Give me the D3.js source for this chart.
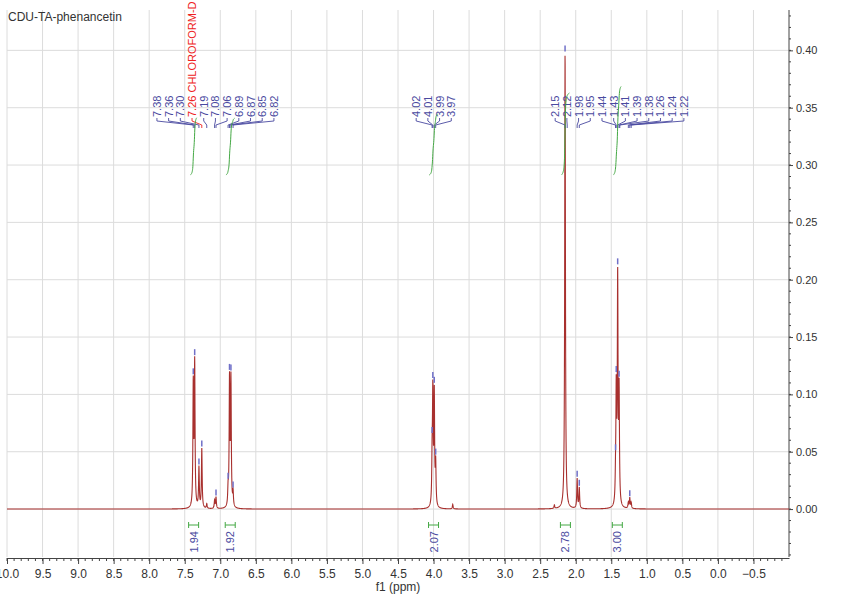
<!DOCTYPE html>
<html><head><meta charset="utf-8">
<script src="https://cdn.jsdelivr.net/npm/d3@7"></script>
<style>body{margin:0;background:#fff}text{font-family:"Liberation Sans",Arial,sans-serif}</style>
</head><body><svg id="c" width="841" height="595"></svg>
<script>
const title = 'CDU-TA-phenancetin';
// peaks: ppm, height
const peakPpm =    [7.38, 7.36, 7.30, 7.26, 7.19, 7.08, 7.06, 6.89, 6.87, 6.85, 6.82, 4.02, 4.01, 3.99, 3.97, 3.73, 2.30, 2.15, 1.98, 1.95, 1.44, 1.43, 1.41, 1.39, 1.26, 1.24, 1.22];
const peakHeight = [0.106,0.124,0.035,0.052,0.004,0.007,0.010,0.014,0.110,0.110,0.012,0.036,0.095,0.097,0.036,0.004,0.003,0.398,0.026,0.018,0.016,0.096,0.196,0.096,0.005,0.009,0.005];
// peak label groups
const labelGroups = [
  ['7.38','7.36','7.30','7.26 CHLOROFORM-D','7.19','7.08','7.06','6.89','6.87','6.85','6.82'],
  ['4.02','4.01','3.99','3.97'],
  ['2.15','2.12','1.98','1.95','1.44','1.43','1.41','1.39','1.38','1.26','1.24','1.22']
];
// integrals: from, to, value
const intFrom = [7.42, 6.92, 4.06, 2.20, 1.47];
const intTo   = [7.33, 6.80, 3.94, 2.09, 1.36];
const intVal  = [1.94, 1.92, 2.07, 2.78, 3.00];
const xTicks = d3.range(10, -0.51, -0.5);
const yTicks = d3.range(0, 0.401, 0.05);

const svg = d3.select('#c');
const L = 7, R = 789, T = 10, B = 557;
const x = d3.scaleLinear().domain([10.0, -1.0]).range([L, R]);
const y = d3.scaleLinear().domain([-0.0418, 0.4352]).range([B, T]);

// grid
svg.append('g').selectAll('line').data(xTicks).join('line')
  .attr('x1', d => x(d)).attr('x2', d => x(d)).attr('y1', T).attr('y2', B)
  .attr('stroke', '#dcdcdc');
svg.append('g').selectAll('line').data(yTicks).join('line')
  .attr('x1', L).attr('x2', R).attr('y1', d => y(d)).attr('y2', d => y(d))
  .attr('stroke', '#dcdcdc');

// axes
const xAxis = d3.axisBottom(x).tickValues(xTicks).tickFormat(d3.format('.1f')).tickSize(6).tickSizeOuter(0);
const gx = svg.append('g').attr('transform', `translate(0,${B + 1})`).call(xAxis);
gx.selectAll('text').attr('font-size', 12).attr('fill', '#333').attr('dy', '0.9em');
gx.selectAll('line,path').attr('stroke', '#444');
svg.append('g').selectAll('line').data(d3.range(10, -1.0, -0.1)).join('line')
  .attr('x1', d => x(d)).attr('x2', d => x(d)).attr('y1', B + 1).attr('y2', B + 4).attr('stroke', '#444');
svg.append('text').attr('x', x(4.5)).attr('y', 591).attr('text-anchor', 'middle').attr('font-size', 12).attr('fill', '#333').text('f1 (ppm)');

const yAxis = d3.axisRight(y).tickValues(yTicks).tickFormat(d3.format('.2f')).tickSize(4).tickSizeOuter(0);
const gy = svg.append('g').attr('transform', `translate(${R},0)`).call(yAxis);
gy.selectAll('text').attr('font-size', 11).attr('fill', '#333');
gy.selectAll('line,path').attr('stroke', '#444');
gy.select('path').attr('d', `M0,${T}V${B}`);
svg.append('g').selectAll('line').data(d3.range(-0.04, 0.431, 0.01)).join('line')
  .attr('x1', R).attr('x2', R + 2).attr('y1', d => y(d)).attr('y2', d => y(d)).attr('stroke', '#444');

svg.append('text').attr('x', 8).attr('y', 21).attr('font-size', 12).attr('fill', '#333').text(title);

// spectrum from peak list (Lorentzian lines)
const hw = 0.006;
const spec = (p) => peakPpm.reduce((s, c, i) => s + peakHeight[i] / (1 + ((p - c) / hw) ** 2), 0);
const pts = d3.range(10.0, -1.0, -0.0015).map(p => [p, spec(p)]);
svg.append('path').datum(pts)
  .attr('d', d3.line().x(d => x(d[0])).y(d => y(d[1])))
  .attr('fill', 'none').attr('stroke', '#a8302e').attr('stroke-width', 1.1);

// small blue peak markers
svg.append('g').selectAll('line').data(peakPpm.filter((d, i) => peakHeight[i] > 0.008)).join('line')
  .attr('x1', d => x(d)).attr('x2', d => x(d))
  .attr('y1', d => y(spec(d)) - 7).attr('y2', d => y(spec(d)) - 1)
  .attr('stroke', '#7070c8').attr('stroke-width', 1.5);

// peak labels
const sp = 11.7;
const labelShift = [2, 0, 14];
labelGroups.forEach((g, gi) => {
  const ppms = g.map(s => parseFloat(s));
  const cx = d3.mean(ppms.map(p => x(p))) + labelShift[gi];
  const gg = svg.append('g');
  g.forEach((s, i) => {
    const lx = cx + (i - (g.length - 1) / 2) * sp;
    const px = x(ppms[i]);
    const red = s.includes('CHLORO');
    const col = red ? '#ee2222' : '#4a4aa0';
    gg.append('path').attr('d', `M${lx},118V121L${px},125V128`).attr('fill', 'none').attr('stroke', col).attr('stroke-width', 0.9);
    gg.append('text').attr('transform', `translate(${lx + 4},117) rotate(-90)`)
      .attr('font-size', 11).attr('fill', col).text(s);
  });
});

// integrals
intVal.forEach((v, k) => {
  const xs = d3.range(intFrom[k], intTo[k], -0.002);
  let acc = 0;
  const cum = xs.map(p => (acc += spec(p), [p, acc]));
  const h = v * 29.5;
  const iy = d3.scaleLinear().domain([0, acc]).range([175, 175 - h]);
  svg.append('path').datum(cum).attr('d', d3.line().x(d => x(d[0])).y(d => iy(d[1])))
    .attr('fill', 'none').attr('stroke', '#44a844').attr('stroke-width', 1);
  const mx = (x(intFrom[k]) + x(intTo[k])) / 2;
  const g = svg.append('g').attr('stroke', '#44a844');
  g.append('line').attr('x1', mx - 5).attr('x2', mx + 5).attr('y1', 525).attr('y2', 525);
  g.append('line').attr('x1', mx - 5).attr('x2', mx - 5).attr('y1', 522).attr('y2', 528);
  g.append('line').attr('x1', mx + 5).attr('x2', mx + 5).attr('y1', 522).attr('y2', 528);
  svg.append('text').attr('transform', `translate(${mx + 4},531) rotate(-90)`)
    .attr('text-anchor', 'end').attr('font-size', 11).attr('fill', '#4a4aa0').text(v.toFixed(2));
});
</script></body></html>
